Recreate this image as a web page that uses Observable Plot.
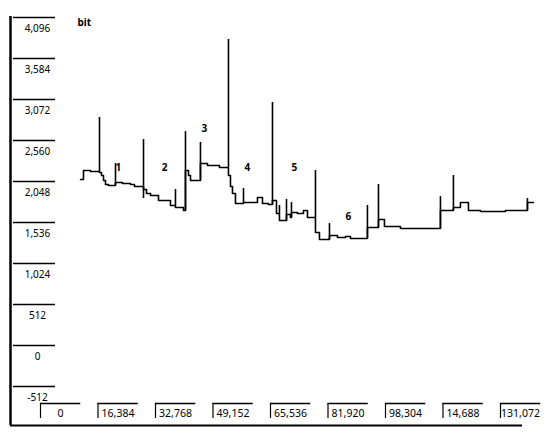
<!DOCTYPE html>
<html><head><meta charset="utf-8">
<script src="https://cdn.jsdelivr.net/npm/d3@7"></script>
<script src="https://cdn.jsdelivr.net/npm/@observablehq/plot@0.6"></script>
<style>body{margin:0;background:#fff}</style>
</head><body><div id="chart"></div>
<script>
const yTicks = [-512, 0, 512, 1024, 1536, 2048, 2560, 3072, 3584, 4096];
const xTicks = [0, 16384, 32768, 49152, 65536, 81920, 98304, 114688, 131072];
const xLabels = ["0", "16,384", "32,768", "49,152", "65,536", "81,920", "98,304", "14,688", "131,072"];

// step levels of the trace (step-after)
const levelX = [11400, 12250, 14250, 16810, 17380, 17950, 18520, 19370, 21370, 23360, 25640, 26780,
  29350, 30200, 31340, 33620, 37040, 38460, 40740, 41310, 42170, 42740, 45580, 47580, 51000,
  53560, 54130, 54700, 55560, 57840, 61820, 63250, 64960, 66100, 67240, 68090, 70090, 71230,
  71510, 73220, 74930, 76070, 78350, 79490, 82340, 84620, 86900, 88320, 93160, 96300, 98000,
  102560, 113960, 117660, 119660, 121940, 125360, 132480, 138750, 140460];
const levelY = [2073, 2185, 2173, 2160, 2123, 2060, 2010, 1998, 2035, 2023, 2010, 1985,
  1948, 1898, 1873, 1810, 1748, 1723, 1685, 2185, 2123, 2060, 2272, 2247, 2222,
  2123, 1985, 1898, 1773, 1785, 1848, 1773, 1760, 1810, 1648, 1561, 1635, 1598,
  1660, 1648, 1685, 1598, 1411, 1323, 1373, 1348, 1361, 1336, 1473, 1573, 1486,
  1461, 1685, 1723, 1785, 1685, 1673, 1685, 1785, 1785];

// spikes
const spikeX = [16810, 21370, 29350, 29350, 38460, 41310, 45580, 53560, 57840, 66100, 68090,
  70090, 71510, 78350, 82340, 93160, 96300, 113960, 117660, 138750];
const spikeTop = [2847, 2272, 2572, 1835, 1948, 2672, 2535, 3821, 1960, 3034, 1748,
  1823, 1785, 2185, 1523, 1748, 2010, 1860, 2123, 1835];

// numbered annotations
const noteX = [22220, 35330, 46720, 58970, 72360, 87750];
const noteY = [2222, 2222, 2710, 2222, 2222, 1610];
const noteText = ["1", "2", "3", "4", "5", "6"];

const levels = levelX.map((x, i) => ({x, y: levelY[i]}));
const levelAt = x => levelY[Math.max(0, d3.bisectLeft(levelX, x) - 1)];
const spikes = spikeX.map((x, i) => ({x, y1: levelAt(x), y2: spikeTop[i]}));
const boxSpan = 0.7 * (xTicks[1] - xTicks[0]);

const chart = Plot.plot({
  width: 550, height: 436,
  marginLeft: 40, marginRight: 50, marginTop: 17, marginBottom: 50,
  x: {domain: [xTicks[0], xTicks[xTicks.length - 1]], label: null},
  y: {domain: [yTicks[0], yTicks[yTicks.length - 1]], label: null},
  style: {fontFamily: "'Noto Sans', sans-serif", background: "#fff", color: "#000"},
  marks: [
    Plot.ruleX([xTicks[0]], {dx: -30, insetTop: -1, insetBottom: -39, strokeWidth: 2.5}),
    Plot.ruleY([yTicks[0]], {dy: 39, insetLeft: -30, insetRight: -22, strokeWidth: 2}),
    Plot.axisY(yTicks, {anchor: "left", tickSize: 42, dx: 15, fill: "none", strokeWidth: 1.4, label: null}),
    Plot.axisY(yTicks, {anchor: "left", tickSize: 0, tickPadding: 3, stroke: "none", textAnchor: "middle",
      dy: 11, fontSize: 10, tickFormat: d => d.toLocaleString("en-US"), label: null}),
    Plot.axisX(xTicks, {anchor: "bottom", tickSize: 15, dy: 17, fill: "none", strokeWidth: 1.2, label: null}),
    Plot.ruleY(xTicks, {x1: d => d, x2: d => d + boxSpan, y: () => yTicks[0], dy: 17, strokeWidth: 1.4}),
    Plot.axisX(xTicks, {anchor: "bottom", tickSize: 0, tickPadding: 23, stroke: "none", dx: 20, fontSize: 10.5,
      tickFormat: d => xLabels[xTicks.indexOf(d)], label: null}),
    Plot.line(levels, {x: "x", y: "y", curve: "step-after", strokeWidth: 1.6}),
    Plot.ruleX(spikes, {x: "x", y1: "y1", y2: "y2", strokeWidth: 1.6}),
    Plot.text(noteText, {x: noteX, y: noteY, text: d => d, fontWeight: "bold", fontSize: 10}),
    Plot.text(["bit"], {frameAnchor: "top-left", dx: 37, dy: 1, fontWeight: "bold", fontSize: 10})
  ]
});
document.getElementById("chart").appendChild(chart);
</script>
</body></html>
